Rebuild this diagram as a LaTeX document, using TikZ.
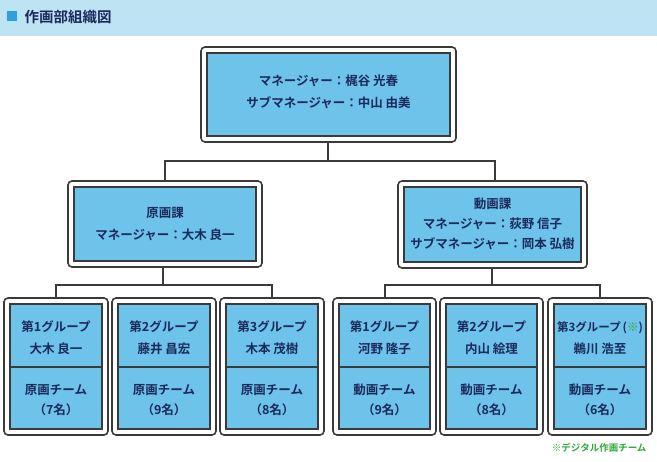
\documentclass[tikz,border=0pt]{standalone}
\usepackage{fontspec}
\setmainfont{Noto Sans CJK JP}[BoldFont={Noto Sans CJK JP Bold}]
\definecolor{band}{HTML}{BEE3F3}
\definecolor{boxb}{HTML}{6EC3EA}
\definecolor{icon}{HTML}{2E9FE0}
\definecolor{navy}{HTML}{1B2A5C}
\definecolor{frame}{HTML}{3A3A3A}
\definecolor{grn}{HTML}{2EA83A}
\begin{document}
\begin{tikzpicture}[x=1pt,y=-1pt,
  outer/.style={draw=frame,line width=1.6pt,fill=white,rounded corners=4pt},
  inner/.style={draw=frame,line width=1.4pt,fill=boxb},
  txt/.style={text=navy,font=\bfseries\fontsize{12.5}{22}\selectfont,align=center},
  txts/.style={text=navy,font=\bfseries\fontsize{12.5}{20}\selectfont,align=center},
  conn/.style={draw=frame,line width=1.4pt}]
\useasboundingbox (0,0) rectangle (657,462);
\fill[band] (0,0) rectangle (657,36);
\fill[icon] (7,11) rectangle (17,21);
\node[anchor=west,text=navy,font=\bfseries\fontsize{14.5}{16}\selectfont] (title) at (21,17) {作画部組織図};
% connectors
\coordinate (t1) at (328,142); \coordinate (t2) at (328,161);
\coordinate (l1) at (165,161); \coordinate (r1) at (495,161);
\draw[conn] (t1) -- (t2); \draw[conn] (165,181) -- (l1) -- (r1) -- (495,181);
\draw[conn] (163,267) -- (163,285); \draw[conn] (56,298) -- (56,285) -- (272,285) -- (272,298);
\draw[conn] (492,268) -- (492,285); \draw[conn] (385,298) -- (385,285) -- (600,285) -- (600,298);
% top
\draw[outer] (201,47) rectangle (456,142);
\draw[inner] (207,53) rectangle (450,136);
\node[txt] (top) at (328.5,92) {マネージャー：梶谷 光春\\サブマネージャー：中山 由美};
% mid
\draw[outer] (68,181) rectangle (262,267);
\draw[inner] (74,187) rectangle (256,261);
\node[txt] (gen) at (165,224) {原画課\\マネージャー：大木 良一};
\draw[outer] (398,181) rectangle (587,268);
\draw[inner] (404,187) rectangle (581,262);
\node[txts] (dou) at (492.5,224) {動画課\\マネージャー：荻野 信子\\サブマネージャー：岡本 弘樹};
% groups
\foreach \a/\b/\t/\n/\team/\k in {
 4/108/第1グループ/大木 良一/原画/7,
 112/216/第2グループ/藤井 昌宏/原画/9,
 220/324/第3グループ/木本 茂樹/原画/8,
 333/436/第1グループ/河野 隆子/動画/9,
 440/543/第2グループ/内山 絵理/動画/8,
 548/652/{{\fontsize{11.5}{20}\selectfont 第3グループ\,(\textcolor{grn}{※})}}/鵜川 浩至/動画/6}{
  \draw[outer] (\a,298) rectangle (\b,435);
  \draw[inner] (\a+6,304) rectangle (\b-6,367);
  \draw[inner] (\a+6,367) rectangle (\b-6,429);
  \node[txt] at ({(\a+\b)/2},338) {\t\\\n};
  \node[txts] at ({(\a+\b)/2},400) {\team チーム\\（\k 名）};
}
\node[anchor=east,text=grn,font=\bfseries\fontsize{9.5}{10}\selectfont] (note) at (650,448) {※デジタル作画チーム};
\end{tikzpicture}
\end{document}
